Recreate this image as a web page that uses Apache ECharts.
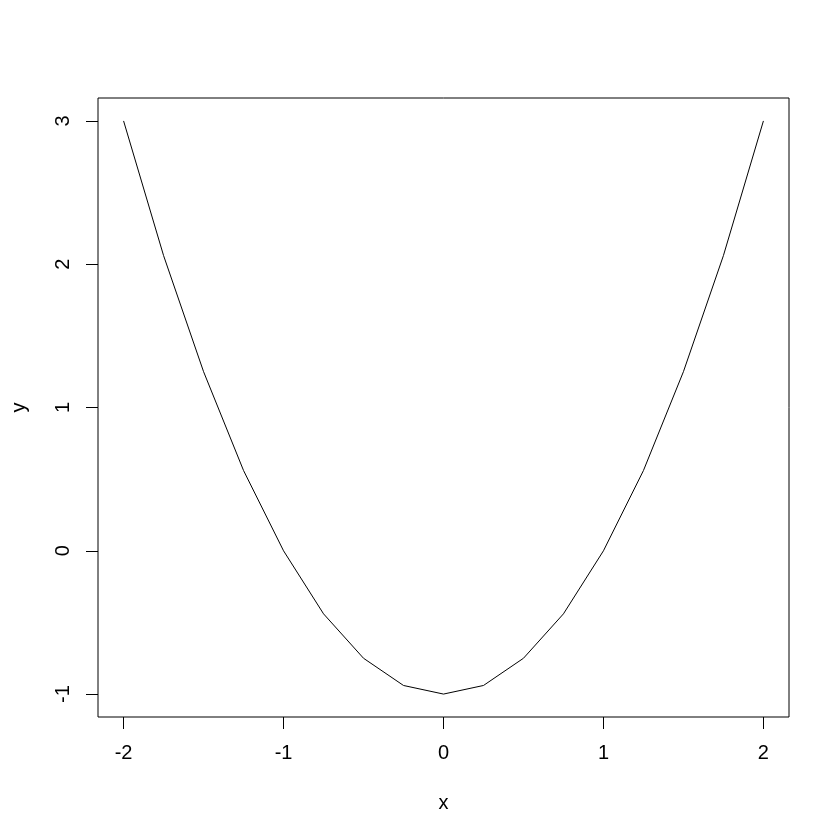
<!DOCTYPE html>
<html>
<head>
<meta charset="utf-8">
<script src="https://cdn.jsdelivr.net/npm/echarts@6/dist/echarts.min.js"></script>
<style>html,body{margin:0;padding:0;background:#fff;}#c{width:840px;height:840px;}</style>
</head>
<body>
<div id="c"></div>
<script>
var xValues = [-2, -1.75, -1.5, -1.25, -1, -0.75, -0.5, -0.25, 0, 0.25, 0.5, 0.75, 1, 1.25, 1.5, 1.75, 2];
var yValues = [3, 2.06, 1.25, 0.56, 0, -0.44, -0.75, -0.94, -1, -0.94, -0.75, -0.44, 0, 0.56, 1.25, 2.06, 3];
var xTicks = [-2, -1, 0, 1, 2];
var yTicks = [-1, 0, 1, 2, 3];

var pts = xValues.map(function (x, i) { return [x, yValues[i]]; });
var font = 'Liberation Sans, Arial, sans-serif';
var chart = echarts.init(document.getElementById('c'), null, {renderer: 'canvas'});
chart.setOption({
  animation: false,
  backgroundColor: '#fff',
  grid: {left: 98, top: 98, width: 691, height: 619, show: true, borderColor: '#000', borderWidth: 1, backgroundColor: 'transparent'},
  xAxis: {
    type: 'value', min: -2.16, max: 2.16,
    name: 'x', nameLocation: 'middle', nameGap: 76,
    nameTextStyle: {fontFamily: font, fontSize: 20, color: '#000'},
    axisLine: {show: false, onZero: false},
    splitLine: {show: false},
    axisTick: {show: true, length: 12, lineStyle: {color: '#000', width: 1}, customValues: xTicks},
    axisLabel: {fontFamily: font, fontSize: 20, color: '#000', margin: 26, customValues: xTicks}
  },
  yAxis: {
    type: 'value', min: -1.16, max: 3.16,
    name: 'y', nameLocation: 'middle', nameGap: 69, nameRotate: 90,
    nameTextStyle: {fontFamily: font, fontSize: 20, color: '#000'},
    axisLine: {show: false, onZero: false},
    splitLine: {show: false},
    axisTick: {show: true, length: 12, lineStyle: {color: '#000', width: 1}, customValues: yTicks},
    axisLabel: {fontFamily: font, fontSize: 20, color: '#000', margin: 25, rotate: 90, customValues: yTicks}
  },
  series: [{
    type: 'line', data: pts, symbol: 'none',
    lineStyle: {color: '#000', width: 1}
  }]
});
</script>
</body>
</html>
